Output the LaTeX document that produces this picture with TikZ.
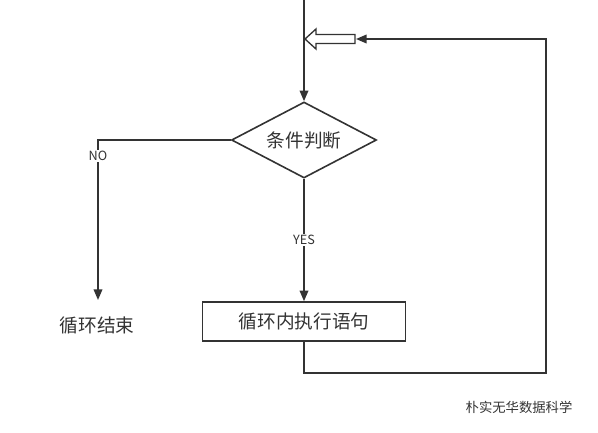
\documentclass[tikz,border=0pt]{standalone}
\usepackage{fontspec}
\setmainfont{Noto Sans CJK SC}
\usetikzlibrary{arrows.meta,shapes.geometric}
\usepackage{xcolor}
\definecolor{inkgray}{HTML}{333333}
\tikzset{every picture/.style={line width=1.2pt}}

\begin{document}
\begin{tikzpicture}[x=0.75pt,y=0.75pt,yscale=-1,xscale=1,
  flow/.style={draw=inkgray,-{Triangle[length=8pt,width=6.5pt]}},
  cjk/.style={text=inkgray,font=\fontsize{14}{16}\selectfont},
  tag/.style={text=inkgray,fill=white,inner sep=1pt,font=\fontsize{9.5}{11}\selectfont}]
\useasboundingbox (0,0) rectangle (598,432);

% Nodes
\node (dec) [diamond,aspect=1.9,draw=inkgray,inner sep=0pt,minimum width=108.75pt,minimum height=57pt,cjk] at (304,140) {条件判断};
\node (body) [draw=inkgray,minimum width=152.25pt,minimum height=29.25pt,cjk] at (304,321.5) {循环内执行语句};
\node (endtxt) [cjk] at (97,325) {循环结束};
\node (mark) [text=inkgray,font=\fontsize{10}{12}\selectfont] at (519,407) {朴实无华数据科学};

% Coordinates
\coordinate (entry) at (304,0);
\coordinate (noend) at (98,300);
\coordinate (loopr) at (546,373);
\coordinate (hollowtail) at (356,39);

% Hollow arrow
\draw [draw=inkgray,fill=white,line width=1pt] (305,39) -- (316,29) -- (316,34.5) -- (355,34.5) -- (355,43.5) -- (316,43.5) -- (316,49) -- cycle;

% Connectors
\draw [flow] (entry) -- (dec.north);
\draw [flow] (dec.west) -| (noend) node [tag,pos=0.55] {NO};
\draw [flow] (dec.south) -- (body.north) node [tag,midway] {YES};
\draw [flow] (body.south) |- (loopr) |- (hollowtail);

\end{tikzpicture}
\end{document}
